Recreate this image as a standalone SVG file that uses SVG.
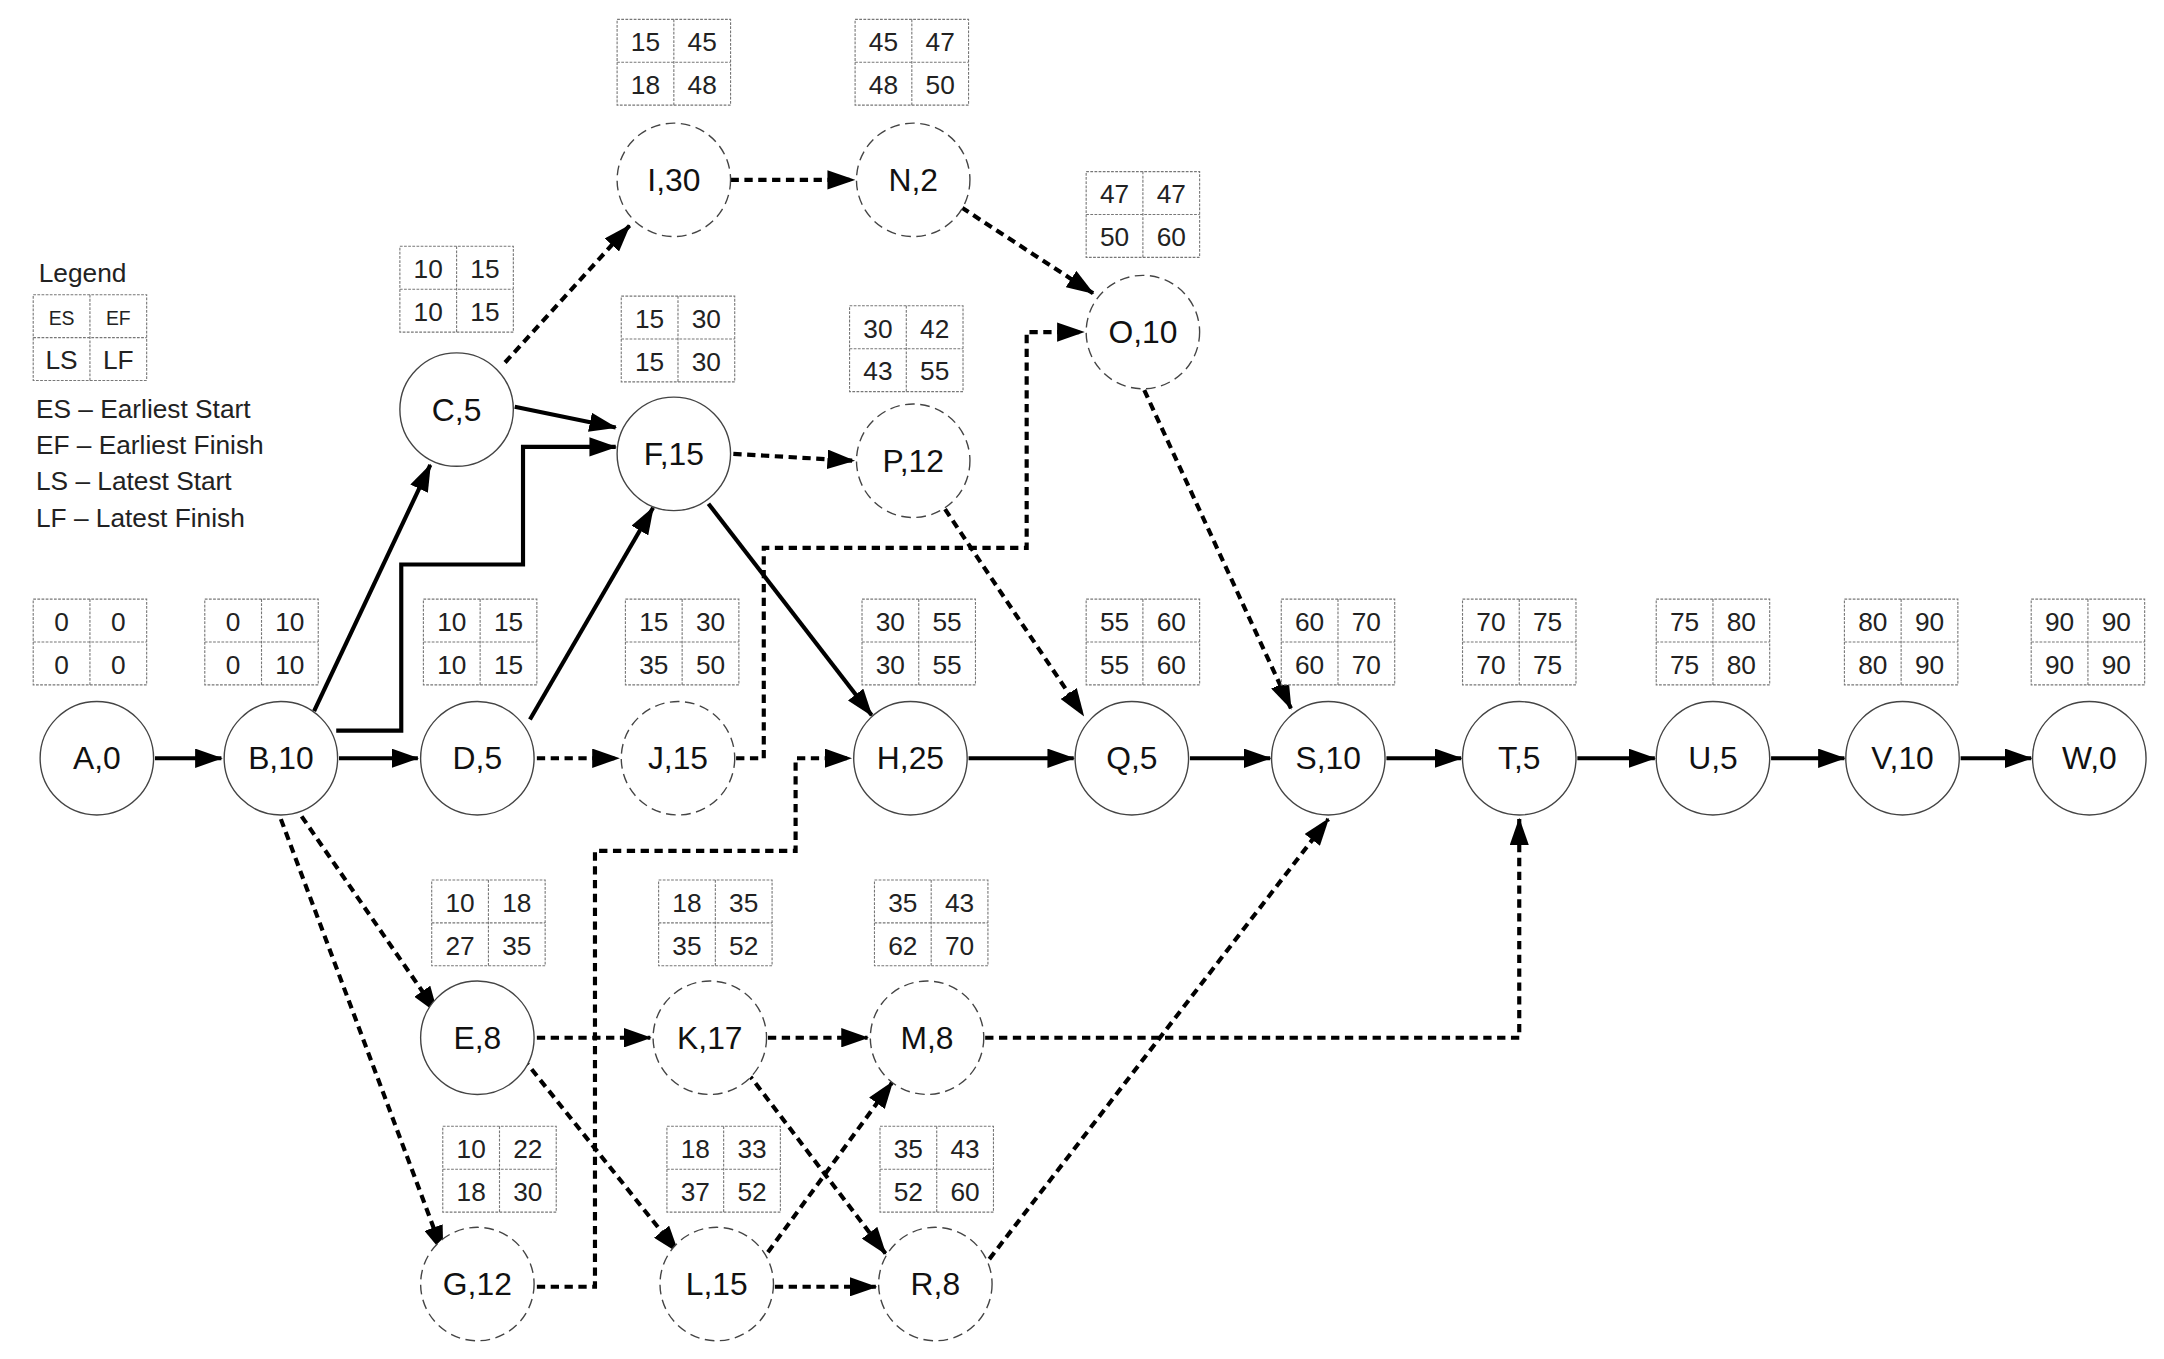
<svg xmlns="http://www.w3.org/2000/svg" width="2164" height="1359" viewBox="0 0 2164 1359">
<defs>
<marker id="ah" viewBox="0 0 20 14" refX="19" refY="7" markerWidth="20" markerHeight="14" markerUnits="userSpaceOnUse" orient="auto"><path d="M0,0L20,7L0,14z" fill="#000"/></marker>
<style>
.n circle{fill:#fff;stroke:#444;stroke-width:1}
.d circle{stroke-dasharray:7 4}
.n text{font-family:"Liberation Sans",Arial,sans-serif;font-size:23px;text-anchor:middle;fill:#111}
.t rect{fill:#fff;stroke:#777;stroke-width:0.8;stroke-dasharray:2 1}
.t line{stroke:#777;stroke-width:0.8;stroke-dasharray:2 1}
.t text{font-family:"Liberation Sans",Arial,sans-serif;font-size:19px;text-anchor:middle;fill:#222}
.e{fill:none;stroke:#000;stroke-width:3;marker-end:url(#ah)}
.ed{fill:none;stroke:#000;stroke-width:3;stroke-dasharray:6 4;marker-end:url(#ah)}
.lg{font-family:"Liberation Sans",Arial,sans-serif;font-size:19px;fill:#222}
</style>
</defs>
<rect width="2164" height="1359" fill="#fff"/>
<g transform="scale(1.38365)">
<g id="legend">
<text class="lg" x="28" y="204">Legend</text>
<g class="t"><rect x="24" y="213" width="82" height="62"/><line x1="65" y1="213" x2="65" y2="275"/><line x1="24" y1="244" x2="106" y2="244"/>
<text x="44.5" y="235" style="font-size:14px">ES</text><text x="85.5" y="235" style="font-size:14px">EF</text><text x="44.5" y="267">LS</text><text x="85.5" y="267">LF</text></g>
<text class="lg" x="26" y="302">ES – Earliest Start</text>
<text class="lg" x="26" y="328">EF – Earliest Finish</text>
<text class="lg" x="26" y="354">LS – Latest Start</text>
<text class="lg" x="26" y="381">LF – Latest Finish</text>
</g>
<g id="connectors">
<path class="e" d="M112,548H160"/>
<path class="e" d="M245,548H302"/>
<path class="e" d="M227,514L311,336"/>
<path class="e" d="M243,528H290V408H378V323H445"/>
<path class="e" d="M372,294L445,309"/>
<path class="e" d="M383,520L472,367"/>
<path class="e" d="M512,364L630,517"/>
<path class="e" d="M700,548H776"/>
<path class="e" d="M860,548H918"/>
<path class="e" d="M1002,548H1056"/>
<path class="e" d="M1140,548H1196"/>
<path class="e" d="M1280,548H1333"/>
<path class="e" d="M1417,548H1468"/>
<path class="ed" d="M388,548H447"/>
<path class="ed" d="M365,262L455,163"/>
<path class="ed" d="M528,130H617"/>
<path class="ed" d="M695,150L790,212"/>
<path class="ed" d="M530,328L617,333"/>
<path class="ed" d="M532,548H552V396H742V240H783"/>
<path class="ed" d="M683,368L783,517"/>
<path class="ed" d="M827,282L933,512"/>
<path class="ed" d="M388,930H430V615H575V548H615"/>
<path class="ed" d="M218,590L316,732"/>
<path class="ed" d="M203,592L320,905"/>
<path class="ed" d="M388,750H470"/>
<path class="ed" d="M378,765L490,905"/>
<path class="ed" d="M555,750H627"/>
<path class="ed" d="M540,775L640,906"/>
<path class="ed" d="M555,905L645,782"/>
<path class="ed" d="M560,930H633"/>
<path class="ed" d="M712,750H1098V592"/>
<path class="ed" d="M715,910L960,592"/>
</g>
<g id="A" class="n"><circle cx="70" cy="548" r="41"/><text x="70" y="556">A,0</text></g>
<g id="B" class="n"><circle cx="203" cy="548" r="41"/><text x="203" y="556">B,10</text></g>
<g id="D" class="n"><circle cx="345" cy="548" r="41"/><text x="345" y="556">D,5</text></g>
<g id="J" class="n d"><circle cx="490" cy="548" r="41"/><text x="490" y="556">J,15</text></g>
<g id="H" class="n"><circle cx="658" cy="548" r="41"/><text x="658" y="556">H,25</text></g>
<g id="Q" class="n"><circle cx="818" cy="548" r="41"/><text x="818" y="556">Q,5</text></g>
<g id="S" class="n"><circle cx="960" cy="548" r="41"/><text x="960" y="556">S,10</text></g>
<g id="T" class="n"><circle cx="1098" cy="548" r="41"/><text x="1098" y="556">T,5</text></g>
<g id="U" class="n"><circle cx="1238" cy="548" r="41"/><text x="1238" y="556">U,5</text></g>
<g id="V" class="n"><circle cx="1375" cy="548" r="41"/><text x="1375" y="556">V,10</text></g>
<g id="W" class="n"><circle cx="1510" cy="548" r="41"/><text x="1510" y="556">W,0</text></g>
<g id="C" class="n"><circle cx="330" cy="296" r="41"/><text x="330" y="304">C,5</text></g>
<g id="F" class="n"><circle cx="487" cy="328" r="41"/><text x="487" y="336">F,15</text></g>
<g id="P" class="n d"><circle cx="660" cy="333" r="41"/><text x="660" y="341">P,12</text></g>
<g id="I" class="n d"><circle cx="487" cy="130" r="41"/><text x="487" y="138">I,30</text></g>
<g id="N" class="n d"><circle cx="660" cy="130" r="41"/><text x="660" y="138">N,2</text></g>
<g id="O" class="n d"><circle cx="826" cy="240" r="41"/><text x="826" y="248">O,10</text></g>
<g id="E" class="n"><circle cx="345" cy="750" r="41"/><text x="345" y="758">E,8</text></g>
<g id="K" class="n d"><circle cx="513" cy="750" r="41"/><text x="513" y="758">K,17</text></g>
<g id="M" class="n d"><circle cx="670" cy="750" r="41"/><text x="670" y="758">M,8</text></g>
<g id="G" class="n d"><circle cx="345" cy="928" r="41"/><text x="345" y="936">G,12</text></g>
<g id="L" class="n d"><circle cx="518" cy="928" r="41"/><text x="518" y="936">L,15</text></g>
<g id="R" class="n d"><circle cx="676" cy="928" r="41"/><text x="676" y="936">R,8</text></g>
<g id="tables" class="t">
<g transform="translate(24,433)"><rect width="82" height="62"/><line x1="41" y1="0" x2="41" y2="62"/><line x1="0" y1="31" x2="82" y2="31"/><text x="20.5" y="23">0</text><text x="61.5" y="23">0</text><text x="20.5" y="54">0</text><text x="61.5" y="54">0</text></g>
<g transform="translate(148,433)"><rect width="82" height="62"/><line x1="41" y1="0" x2="41" y2="62"/><line x1="0" y1="31" x2="82" y2="31"/><text x="20.5" y="23">0</text><text x="61.5" y="23">10</text><text x="20.5" y="54">0</text><text x="61.5" y="54">10</text></g>
<g transform="translate(306,433)"><rect width="82" height="62"/><line x1="41" y1="0" x2="41" y2="62"/><line x1="0" y1="31" x2="82" y2="31"/><text x="20.5" y="23">10</text><text x="61.5" y="23">15</text><text x="20.5" y="54">10</text><text x="61.5" y="54">15</text></g>
<g transform="translate(452,433)"><rect width="82" height="62"/><line x1="41" y1="0" x2="41" y2="62"/><line x1="0" y1="31" x2="82" y2="31"/><text x="20.5" y="23">15</text><text x="61.5" y="23">30</text><text x="20.5" y="54">35</text><text x="61.5" y="54">50</text></g>
<g transform="translate(623,433)"><rect width="82" height="62"/><line x1="41" y1="0" x2="41" y2="62"/><line x1="0" y1="31" x2="82" y2="31"/><text x="20.5" y="23">30</text><text x="61.5" y="23">55</text><text x="20.5" y="54">30</text><text x="61.5" y="54">55</text></g>
<g transform="translate(785,433)"><rect width="82" height="62"/><line x1="41" y1="0" x2="41" y2="62"/><line x1="0" y1="31" x2="82" y2="31"/><text x="20.5" y="23">55</text><text x="61.5" y="23">60</text><text x="20.5" y="54">55</text><text x="61.5" y="54">60</text></g>
<g transform="translate(926,433)"><rect width="82" height="62"/><line x1="41" y1="0" x2="41" y2="62"/><line x1="0" y1="31" x2="82" y2="31"/><text x="20.5" y="23">60</text><text x="61.5" y="23">70</text><text x="20.5" y="54">60</text><text x="61.5" y="54">70</text></g>
<g transform="translate(1057,433)"><rect width="82" height="62"/><line x1="41" y1="0" x2="41" y2="62"/><line x1="0" y1="31" x2="82" y2="31"/><text x="20.5" y="23">70</text><text x="61.5" y="23">75</text><text x="20.5" y="54">70</text><text x="61.5" y="54">75</text></g>
<g transform="translate(1197,433)"><rect width="82" height="62"/><line x1="41" y1="0" x2="41" y2="62"/><line x1="0" y1="31" x2="82" y2="31"/><text x="20.5" y="23">75</text><text x="61.5" y="23">80</text><text x="20.5" y="54">75</text><text x="61.5" y="54">80</text></g>
<g transform="translate(1333,433)"><rect width="82" height="62"/><line x1="41" y1="0" x2="41" y2="62"/><line x1="0" y1="31" x2="82" y2="31"/><text x="20.5" y="23">80</text><text x="61.5" y="23">90</text><text x="20.5" y="54">80</text><text x="61.5" y="54">90</text></g>
<g transform="translate(1468,433)"><rect width="82" height="62"/><line x1="41" y1="0" x2="41" y2="62"/><line x1="0" y1="31" x2="82" y2="31"/><text x="20.5" y="23">90</text><text x="61.5" y="23">90</text><text x="20.5" y="54">90</text><text x="61.5" y="54">90</text></g>
<g transform="translate(289,178)"><rect width="82" height="62"/><line x1="41" y1="0" x2="41" y2="62"/><line x1="0" y1="31" x2="82" y2="31"/><text x="20.5" y="23">10</text><text x="61.5" y="23">15</text><text x="20.5" y="54">10</text><text x="61.5" y="54">15</text></g>
<g transform="translate(449,214)"><rect width="82" height="62"/><line x1="41" y1="0" x2="41" y2="62"/><line x1="0" y1="31" x2="82" y2="31"/><text x="20.5" y="23">15</text><text x="61.5" y="23">30</text><text x="20.5" y="54">15</text><text x="61.5" y="54">30</text></g>
<g transform="translate(614,221)"><rect width="82" height="62"/><line x1="41" y1="0" x2="41" y2="62"/><line x1="0" y1="31" x2="82" y2="31"/><text x="20.5" y="23">30</text><text x="61.5" y="23">42</text><text x="20.5" y="54">43</text><text x="61.5" y="54">55</text></g>
<g transform="translate(446,14)"><rect width="82" height="62"/><line x1="41" y1="0" x2="41" y2="62"/><line x1="0" y1="31" x2="82" y2="31"/><text x="20.5" y="23">15</text><text x="61.5" y="23">45</text><text x="20.5" y="54">18</text><text x="61.5" y="54">48</text></g>
<g transform="translate(618,14)"><rect width="82" height="62"/><line x1="41" y1="0" x2="41" y2="62"/><line x1="0" y1="31" x2="82" y2="31"/><text x="20.5" y="23">45</text><text x="61.5" y="23">47</text><text x="20.5" y="54">48</text><text x="61.5" y="54">50</text></g>
<g transform="translate(785,124)"><rect width="82" height="62"/><line x1="41" y1="0" x2="41" y2="62"/><line x1="0" y1="31" x2="82" y2="31"/><text x="20.5" y="23">47</text><text x="61.5" y="23">47</text><text x="20.5" y="54">50</text><text x="61.5" y="54">60</text></g>
<g transform="translate(312,636)"><rect width="82" height="62"/><line x1="41" y1="0" x2="41" y2="62"/><line x1="0" y1="31" x2="82" y2="31"/><text x="20.5" y="23">10</text><text x="61.5" y="23">18</text><text x="20.5" y="54">27</text><text x="61.5" y="54">35</text></g>
<g transform="translate(476,636)"><rect width="82" height="62"/><line x1="41" y1="0" x2="41" y2="62"/><line x1="0" y1="31" x2="82" y2="31"/><text x="20.5" y="23">18</text><text x="61.5" y="23">35</text><text x="20.5" y="54">35</text><text x="61.5" y="54">52</text></g>
<g transform="translate(632,636)"><rect width="82" height="62"/><line x1="41" y1="0" x2="41" y2="62"/><line x1="0" y1="31" x2="82" y2="31"/><text x="20.5" y="23">35</text><text x="61.5" y="23">43</text><text x="20.5" y="54">62</text><text x="61.5" y="54">70</text></g>
<g transform="translate(320,814)"><rect width="82" height="62"/><line x1="41" y1="0" x2="41" y2="62"/><line x1="0" y1="31" x2="82" y2="31"/><text x="20.5" y="23">10</text><text x="61.5" y="23">22</text><text x="20.5" y="54">18</text><text x="61.5" y="54">30</text></g>
<g transform="translate(482,814)"><rect width="82" height="62"/><line x1="41" y1="0" x2="41" y2="62"/><line x1="0" y1="31" x2="82" y2="31"/><text x="20.5" y="23">18</text><text x="61.5" y="23">33</text><text x="20.5" y="54">37</text><text x="61.5" y="54">52</text></g>
<g transform="translate(636,814)"><rect width="82" height="62"/><line x1="41" y1="0" x2="41" y2="62"/><line x1="0" y1="31" x2="82" y2="31"/><text x="20.5" y="23">35</text><text x="61.5" y="23">43</text><text x="20.5" y="54">52</text><text x="61.5" y="54">60</text></g>
</g>
</g>
</svg>
